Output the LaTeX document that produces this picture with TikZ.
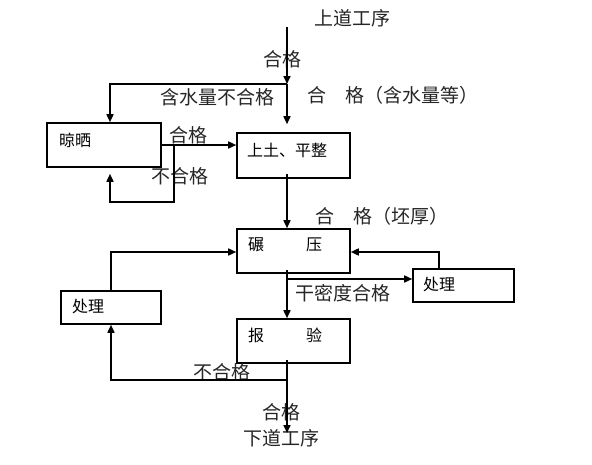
\documentclass[tikz,border=0pt]{standalone}
\usepackage{fontspec}
\newfontfamily\cjk{Noto Sans CJK SC}
\usetikzlibrary{arrows.meta}
\begin{document}
\begin{tikzpicture}[x=1pt,y=-1pt,
  box/.style={draw,line width=1.6pt,inner sep=0pt},
  lbl/.style={font=\cjk\fontsize{19}{19}\selectfont,inner sep=0pt,text=black!85},
  btx/.style={font=\cjk\fontsize{16}{16}\selectfont,inner sep=0pt},
  conn/.style={line width=1.6pt},
  arr/.style={conn,-{Triangle[length=8pt,width=7pt]}}]
\useasboundingbox[fill=white] (0,0) rectangle (592,464);
% boxes
\node[box,minimum width=113pt,minimum height=45pt] (B1) at (293.5,155.5) {};
\node[box,minimum width=113pt,minimum height=44pt] (B2) at (293.5,251) {};
\node[box,minimum width=113pt,minimum height=44pt] (B3) at (293.5,341) {};
\node[box,minimum width=114pt,minimum height=44pt] (L1) at (104,145) {};
\node[box,minimum width=100pt,minimum height=33pt] (L2) at (111,307.5) {};
\node[box,minimum width=101pt,minimum height=33pt] (R) at (463.5,285.5) {};
% box texts
\node[btx,anchor=west] (tL1) at (59,140) {晾晒};
\node[btx,anchor=west] (tB1) at (247,150) {上土、平整};
\node[btx] (tB2a) at (256,245) {碾};
\node[btx] (tB2b) at (314,245) {压};
\node[btx] (tB3a) at (256,335) {报};
\node[btx] (tB3b) at (314,335) {验};
\node[btx,anchor=west] (tL2) at (72,306) {处理};
\node[btx,anchor=west] (tR) at (423,284) {处理};
% labels
\node[lbl] (s0) at (352,18) {上道工序};
\node[lbl] (s1) at (282,59) {合格};
\node[lbl] (s2) at (217,97) {含水量不合格};
\node[lbl,anchor=west] (s3) at (307,95) {合　格（含水量等）};
\node[lbl] (s4) at (188,135) {合格};
\node[lbl] (s5) at (180,176) {不合格};
\node[lbl,anchor=west] (s6) at (315,216) {合　格（坯厚）};
\node[lbl] (s7) at (343,293) {干密度合格};
\node[lbl] (s8) at (222,372) {不合格};
\node[lbl] (s9) at (281,412) {合格};
\node[lbl] (s10) at (281,438) {下道工序};
% coordinates
\coordinate (T) at (287,27);
\coordinate (J1) at (287,84);
\coordinate (C1) at (110,84);
\coordinate (K1) at (174,145);
\coordinate (K2) at (174,202);
\coordinate (K3) at (110,202);
\coordinate (P1) at (111,252);
\coordinate (P2) at (439,252);
\coordinate (J3) at (287,279);
\coordinate (J2) at (287,380);
\coordinate (C2) at (111,380);
\coordinate (E) at (287,433);
% connectors
\draw[arr] (T) -- (J1);
\draw[arr,shorten >=8pt] (J1) -- (J1 |- B1.north);
\draw[arr] (J1) -- (C1) -- (C1 |- L1.north);
\draw[arr] (L1.east) -- (L1.east -| B1.west);
\draw[arr,shorten >=6pt] (K1) -- (K2) -- (K3) -- (K3 |- L1.south);
\draw[arr,shorten <=-5pt] (J1 |- B1.south) -- (J1 |- B2.north);
\draw[arr] (L2.north) -- (P1) -- (P1 -| B2.west);
\draw[arr] (P2 |- R.north) -- (P2) -- (P2 -| B2.east);
\draw[arr,shorten <=-4pt] (J1 |- B2.south) -- (J1 |- B3.north);
\draw[arr] (J3) -- (J3 -| R.west);
\draw[conn,shorten <=-4pt] (J1 |- B3.south) -- (J2);
\draw[arr] (J2) -- (C2) -- (C2 |- L2.south);
\draw[arr] (J2) -- (E);
\end{tikzpicture}
\end{document}
